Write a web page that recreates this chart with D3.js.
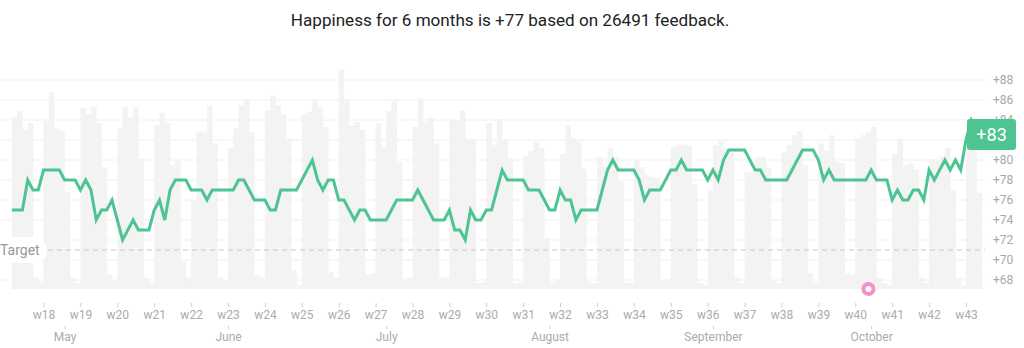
<!DOCTYPE html>
<html>
<head>
<meta charset="utf-8">
<script src="https://cdn.jsdelivr.net/npm/d3@7"></script>
<style>
  html, body { margin: 0; padding: 0; background: #fff; }
  svg { display: block; font-family: Roboto, "Open Sans", sans-serif; }
</style>
</head>
<body>
<svg id="chart" width="1024" height="348"></svg>
<script>
// ---------- DATA ----------
const titleText = "Happiness for 6 months is +77 based on 26491 feedback.";
const firstDay = "2020-04-21";
const endDay = "2020-10-22";   // exclusive

// daily happiness score (one per day from 2020-04-21)
const happiness = [
  75,75,75,78,77,77,79,79,79,79,
  78,78,78,77,78,77,74,75,75,76,
  74,72,73,74,73,73,73,75,76,74,
  77,78,78,78,77,77,77,76,77,77,
  77,77,77,78,78,77,76,76,76,75,
  75,77,77,77,77,78,79,80,78,77,
  78,78,76,76,75,74,75,75,74,74,
  74,74,75,76,76,76,76,77,76,75,
  74,74,74,75,73,73,72,75,74,74,
  75,75,77,79,78,78,78,78,77,77,
  77,76,75,75,77,76,76,74,75,75,
  75,75,77,79,80,79,79,79,79,78,
  76,77,77,77,78,79,79,80,79,79,
  79,79,78,79,78,80,81,81,81,81,
  80,79,79,78,78,78,78,78,79,80,
  81,81,81,80,78,79,78,78,78,78,
  78,78,78,79,78,78,78,76,77,76,
  76,77,77,76,79,78,79,80,79,80,
  79,82,84,83
];

// daily feedback count
const feedback = [
  229,237,212,221,15,9,224,262,214,210,
  129,15,8,241,233,242,221,162,19,12,
  214,242,228,241,174,15,8,218,234,221,
  165,172,36,15,119,210,208,244,194,15,
  12,188,214,245,252,209,19,15,238,258,
  245,232,201,25,5,232,236,253,242,216,
  23,15,292,252,218,222,212,19,21,221,
  189,237,250,169,12,15,216,254,222,228,
  194,16,15,225,225,237,200,198,8,9,
  221,192,226,198,174,8,9,177,184,196,
  188,68,9,12,180,218,201,196,160,9,
  8,176,164,188,176,143,9,8,172,162,
  152,149,148,12,12,189,192,192,190,139,
  8,5,132,192,197,188,182,15,8,156,
  156,176,176,161,12,8,182,192,205,210,
  165,21,9,194,184,205,169,168,21,19,
  200,205,209,216,15,8,5,180,200,165,
  168,159,15,8,173,170,177,188,132,15,
  5,218,222,128
];

const gridTicks = [68,70,72,74,76,78,80,82,84,86,88];
const yTickLabels = [68,70,72,74,76,78,80,84,86,88]; // +82 is hidden behind the value badge
const weekLabels = ["w18","w19","w20","w21","w22","w23","w24","w25","w26","w27","w28","w29","w30",
                    "w31","w32","w33","w34","w35","w36","w37","w38","w39","w40","w41","w42","w43"];
const monthLabels = ["May","June","July","August","September","October"];
const targetValue = 71;
const targetLabel = "Target";
const currentLabel = "+83";
const eventDates = ["2020-09-30T12:00:00Z"];

// ---------- SCALES ----------
const svg = d3.select("#chart");
const parse = s => new Date(s + (s.length === 10 ? "T00:00:00Z" : ""));
const start = parse(firstDay), end = parse(endDay);
const days = d3.utcDay.range(start, end);

const plotTop = 60, plotBottom = 289, plotLeft = 11.9, plotRight = 981.8;
const x = d3.scaleUtc().domain([start, end]).range([plotLeft, plotRight]);
const y = d3.scaleLinear().domain([67.1, 90]).range([plotBottom, plotTop]);
const yBar = d3.scaleLinear().domain([0, 305]).range([plotBottom, plotTop]);

const green = "#4dc492";

// ---------- TITLE ----------
svg.append("text")
  .attr("x", 510).attr("y", 26)
  .attr("text-anchor", "middle")
  .attr("font-size", 17.1)
  .attr("fill", "#222")
  .text(titleText);

// ---------- GRID ----------
svg.append("g").selectAll("line").data(gridTicks).join("line")
  .attr("x1", 0).attr("x2", 985)
  .attr("y1", d => y(d)).attr("y2", d => y(d))
  .attr("stroke", "#efefef").attr("stroke-width", 1);

// ---------- BARS ----------
svg.append("g").selectAll("rect").data(days).join("rect")
  .attr("x", d => x(d))
  .attr("width", d => x(d3.utcDay.offset(d, 1)) - x(d) + 0.3)
  .attr("y", (d, i) => yBar(feedback[i]))
  .attr("height", (d, i) => plotBottom - yBar(feedback[i]))
  .attr("fill", "#f3f3f3");

// ---------- TARGET ----------
svg.append("line")
  .attr("x1", 48).attr("x2", 985)
  .attr("y1", y(targetValue)).attr("y2", y(targetValue))
  .attr("stroke", "#c8c8c8").attr("stroke-width", 1)
  .attr("stroke-dasharray", "5,4");
svg.append("rect")
  .attr("x", -14).attr("y", y(targetValue) - 13)
  .attr("width", 61).attr("height", 26).attr("rx", 13)
  .attr("fill", "#fff");
svg.append("text")
  .attr("x", 0).attr("y", y(targetValue))
  .attr("dy", "0.35em")
  .attr("font-size", 14)
  .attr("fill", "#999")
  .text(targetLabel);

// ---------- LINE ----------
const line = d3.line()
  .x((d, i) => x(days[i]))
  .y(d => y(d));
svg.append("path")
  .datum(happiness)
  .attr("d", line)
  .attr("fill", "none")
  .attr("stroke", green)
  .attr("stroke-width", 3);

// ---------- RIGHT AXIS ----------
const yAxis = d3.axisRight(y).tickValues(yTickLabels).tickSize(0).tickPadding(0)
  .tickFormat(d => "+" + d);
const gy = svg.append("g").attr("transform", "translate(993,0)").call(yAxis);
gy.select(".domain").remove();
gy.selectAll("text").attr("font-size", 12).attr("fill", "#a8a8a8")
  .attr("font-family", "Roboto, sans-serif");

// ---------- BOTTOM AXES ----------
const mondays = d3.utcMonday.range(start, end);
const weekAxis = d3.axisBottom(x).tickValues(mondays).tickSize(4).tickPadding(3)
  .tickFormat((d, i) => weekLabels[i]);
const gw = svg.append("g").attr("transform", "translate(0,303)").call(weekAxis);
gw.select(".domain").remove();
gw.selectAll("line").attr("stroke", "#cfcfcf");
gw.selectAll("text").attr("font-size", 12).attr("fill", "#ababab")
  .attr("font-family", "Roboto, sans-serif");

const months = d3.utcMonth.range(d3.utcMonth.ceil(start), end);
const monthAxis = d3.axisBottom(x).tickValues(months).tickSize(3).tickPadding(3)
  .tickFormat((d, i) => monthLabels[i]);
const gm = svg.append("g").attr("transform", "translate(0,326)").call(monthAxis);
gm.select(".domain").remove();
gm.selectAll("line").attr("stroke", "#cfcfcf");
gm.selectAll("text").attr("font-size", 12).attr("fill", "#ababab")
  .attr("font-family", "Roboto, sans-serif");

// ---------- EVENT MARKER ----------
svg.append("g").selectAll("circle").data(eventDates).join("circle")
  .attr("cx", d => x(new Date(d)))
  .attr("cy", plotBottom)
  .attr("r", 5)
  .attr("fill", "#fff")
  .attr("stroke", "#f78fcb")
  .attr("stroke-width", 4);

// ---------- CURRENT VALUE LABEL ----------
const lastX = x(days[days.length - 1]);
const bx = lastX - 9.5, by = y(84.1);
svg.append("rect")
  .attr("x", bx).attr("y", by)
  .attr("width", 49).attr("height", 31).attr("rx", 3)
  .attr("fill", green);
svg.append("text")
  .attr("x", bx + 24.5).attr("y", by + 15.5)
  .attr("dy", "0.35em")
  .attr("text-anchor", "middle")
  .attr("font-size", 18)
  .attr("fill", "#fff")
  .text(currentLabel);
</script>
</body>
</html>
